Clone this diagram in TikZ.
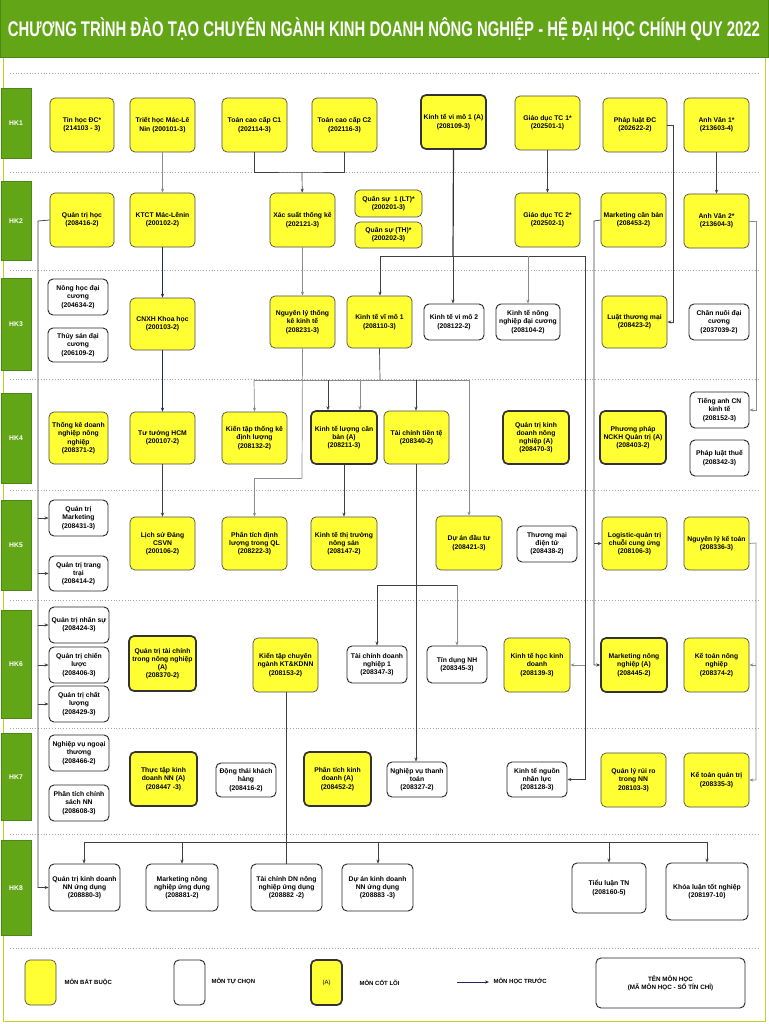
\documentclass[tikz,border=0pt]{standalone}
\usepackage{fontspec}
\usepackage{graphicx}
\setmainfont{Liberation Sans}
\usetikzlibrary{arrows.meta}
\definecolor{yl}{HTML}{FFFF33}
\definecolor{gr}{HTML}{62A516}
\definecolor{grd}{HTML}{4A8A12}
\definecolor{nv}{HTML}{1F2A5C}
\tikzset{
 bx/.style n args={4}{minimum width={(#2-#1)*1pt},minimum height={(#4-#3)*1pt},at={({(#1+#2)/2},{(#3+#4)/2})}},
 base/.style={rounded corners=5pt,draw=black!70,line width=0.7pt,align=center,inner sep=0.5pt,font=\fontsize{6.8}{8.2}\selectfont\bfseries},
 req/.style={base,fill=yl},
 opt/.style={base,fill=white,line width=0.9pt,draw=black!85},
 core/.style={base,fill=yl,line width=1.7pt,draw=black!80},
 hk/.style={fill=gr,draw=grd,line width=0.8pt,text=white,font=\fontsize{6.8}{8}\selectfont\bfseries,minimum width=30pt},
 ln/.style={line width=0.7pt,draw=black!75},
 lg/.style={line width=0.7pt,draw=black!45},
 ar/.style={ln,-{Stealth[length=4pt,width=3.2pt]}},
 arg/.style={lg,-{Stealth[length=4pt,width=3.2pt]}},
 sep/.style={draw=black!35,line width=0.8pt,dotted},
 lgt/.style={font=\fontsize{6}{7}\selectfont\bfseries,anchor=west},
}
\begin{document}
\begin{tikzpicture}[x=1pt,y=-1pt]
\useasboundingbox (0,0) rectangle (768,1024);
\fill[white] (0,0) rectangle (768,1024);
\draw[yl!80!black,line width=0.8pt] (3,58) -- (3,1021) -- (765,1021) -- (765,58);
\node[fill=gr,draw=grd,line width=1pt,minimum width=768pt,minimum height=58pt,inner sep=0pt] (title) at (384,29) {};
\node[text=white,inner sep=0pt] (tt) at (384,29) {\resizebox{752pt}{19pt}{\bfseries CHƯƠNG TRÌNH ĐÀO TẠO CHUYÊN NGÀNH KINH DOANH NÔNG NGHIỆP - HỆ ĐẠI HỌC CHÍNH QUY 2022}};
\foreach \y in {73,172,270,379,490,600,728,834,948} \draw[sep] (10,\y) -- (760,\y);
\node[hk,minimum height=70pt] (hk1) at (16,123) {HK1};
\node[hk,minimum height=79pt] (hk2) at (16,221) {HK2};
\node[hk,minimum height=92pt] (hk3) at (16,324) {HK3};
\node[hk,minimum height=90pt] (hk4) at (16,438) {HK4};
\node[hk,minimum height=90pt] (hk5) at (16,545) {HK5};
\node[hk,minimum height=108pt] (hk6) at (16,664) {HK6};
\node[hk,minimum height=87pt] (hk7) at (16,777) {HK7};
\node[hk,minimum height=95pt] (hk8) at (16,888) {HK8};
% HK1
\node[req,bx={50}{114}{98}{152}] (tin) {Tin học ĐC*\\(214103 - 3)};
\node[req,bx={130}{195}{98}{152}] (triet) {Triết học Mác-Lê\\Nin (200101-3)};
\node[req,bx={222}{287}{98}{152}] (c1) {Toán cao cấp C1\\(202114-3)};
\node[req,bx={312}{377}{98}{152}] (c2) {Toán cao cấp C2\\(202116-3)};
\node[core,bx={421}{486}{95}{149}] (vimo1) {Kinh tế vi mô 1 (A)\\(208109-3)};
\node[req,bx={515}{580}{96}{150}] (gdtc1) {Giáo dục TC 1*\\(202501-1)};
\node[req,bx={603}{667}{98}{152}] (pldc) {Pháp luật ĐC\\(202622-2)};
\node[req,bx={684}{749}{98}{152}] (av1) {Anh Văn 1*\\(213603-4)};
% HK2
\node[req,bx={50}{114}{193}{247}] (qth) {Quản trị học\\(208416-2)};
\node[req,bx={130}{195}{193}{247}] (ktct) {KTCT Mác-Lênin\\(200102-2)};
\node[req,bx={270}{335}{193}{247}] (xstk) {Xác suất thống kê\\(202121-3)};
\node[req,bx={355}{422}{190}{217}] (qs1) {Quân sự\ \ 1 (LT)*\\(200201-3)};
\node[req,bx={355}{422}{222}{248}] (qs2) {Quân sự (TH)*\\(200202-3)};
\node[req,bx={515}{580}{193}{247}] (gdtc2) {Giáo dục TC 2*\\(202502-1)};
\node[req,bx={601}{666}{193}{247}] (mkcb) {Marketing căn bản\\(208453-2)};
\node[req,bx={684}{749}{194}{248}] (av2) {Anh Văn 2*\\(213604-3)};
% HK3
\node[opt,bx={48}{108}{279}{315}] (nonghoc) {Nông học đại\\cương\\(204634-2)};
\node[opt,bx={48}{108}{328}{362}] (thuysan) {Thủy sản đại\\cương\\(206109-2)};
\node[req,bx={130}{195}{298}{350}] (cnxh) {CNXH Khoa học\\(200103-2)};
\node[req,bx={270}{335}{296}{348}] (nltk) {Nguyên lý thống\\kê kinh tế\\(208231-3)};
\node[req,bx={347}{412}{296}{348}] (vimo1b) {Kinh tế vĩ mô 1\\(208110-3)};
\node[opt,bx={424}{484}{304}{340}] (vimo2) {Kinh tế vi mô 2\\(208122-2)};
\node[opt,bx={496}{560}{304}{340}] (ktnn) {Kinh tế nông\\nghiệp đại cương\\(208104-2)};
\node[req,bx={602}{667}{296}{348}] (ltm) {Luật thương mại\\(208423-2)};
\node[opt,bx={689}{749}{304}{340}] (channuoi) {Chăn nuôi đại\\cương\\(2037039-2)};
% HK4
\node[req,bx={49}{108}{412}{464}] (tkdn) {Thống kê doanh\\nghiệp nông\\nghiệp\\(208371-2)};
\node[req,bx={130}{195}{412}{464}] (tthcm) {Tư tưởng HCM\\(200107-2)};
\node[req,bx={222}{287}{412}{464}] (kttk) {Kiến tập thống kê\\định lượng\\(208132-2)};
\node[core,bx={311}{377}{411}{464}] (ktl) {Kinh tế lượng căn\\bản (A)\\(208211-3)};
\node[req,bx={384}{449}{411}{464}] (tctt) {Tài chính tiền tệ\\(208340-2)};
\node[core,bx={503}{569}{411}{464}] (qtkd) {Quản trị kinh\\doanh nông\\nghiệp (A)\\(208470-3)};
\node[core,bx={600}{666}{411}{464}] (nckh) {Phương pháp\\NCKH Quản trị (A)\\(208403-2)};
\node[opt,bx={690}{749}{392}{428}] (tacn) {Tiếng anh CN\\kinh tế\\(208152-3)};
\node[opt,bx={690}{749}{440}{476}] (plt) {Pháp luật thuế\\(208342-3)};
% HK5
\node[opt,bx={49}{108}{500}{536}] (qtmk) {Quản trị\\Marketing\\(208431-3)};
\node[opt,bx={49}{108}{556}{591}] (qttt) {Quản trị trang\\trại\\(208414-2)};
\node[req,bx={130}{195}{517}{570}] (lsd) {Lịch sử Đảng\\CSVN\\(200106-2)};
\node[req,bx={222}{287}{517}{570}] (ptdl) {Phân tích định\\lượng trong QL\\(208222-3)};
\node[req,bx={311}{377}{517}{570}] (kttt) {Kinh tế thị trường\\nông sản\\(208147-2)};
\node[req,bx={436}{502}{516}{570}] (dadt) {Dự án đầu tư\\(208421-3)};
\node[opt,bx={517}{577}{526}{562}] (tmdt) {Thương mại\\điện tử\\(208438-2)};
\node[req,bx={602}{667}{517}{570}] (logi) {Logistic-quản trị\\chuỗi cung ứng\\(208106-3)};
\node[req,bx={684}{749}{517}{570}] (nlkt) {Nguyên lý kế toán\\(208336-3)};
% HK6
\node[opt,bx={49}{109}{607}{643}] (qtns) {Quản trị nhân sự\\(208424-3)};
\node[opt,bx={49}{109}{647}{683}] (qtcl) {Quản trị chiến\\lược\\(208406-3)};
\node[opt,bx={49}{109}{686}{722}] (qtcll) {Quản trị chất\\lượng\\(208429-3)};
\node[core,bx={129}{196}{636}{691}] (qttc) {Quản trị tài chính\\trong nông nghiệp\\(A)\\(208370-2)};
\node[req,bx={253}{318}{638}{692}] (ktcn) {Kiến tập chuyên\\ngành KT\&KDNN\\(208153-2)};
\node[opt,bx={347}{407}{646}{683}] (tcdn) {Tài chính doanh\\nghiệp 1\\(208347-3)};
\node[opt,bx={427}{487}{646}{683}] (tdnh) {Tín dụng NH\\(208345-3)};
\node[req,bx={504}{570}{638}{692}] (kthkd) {Kinh tế học kinh\\doanh\\(208139-3)};
\node[core,bx={601}{667}{638}{692}] (mknn) {Marketing nông\\nghiệp (A)\\(208445-2)};
\node[req,bx={684}{749}{638}{692}] (ktnn2) {Kế toán nông\\nghiệp\\(208374-2)};
% HK7
\node[opt,bx={49}{109}{735}{771}] (nvnt) {Nghiệp vụ ngoại\\thương\\(208466-2)};
\node[opt,bx={49}{109}{785}{821}] (ptcs) {Phân tích chính\\sách NN\\(208608-3)};
\node[core,bx={130}{197}{752}{806}] (ttkd) {Thực tập kinh\\doanh NN (A)\\(208447 -3)};
\node[opt,bx={216}{276}{763}{797}] (dtkh) {Động thái khách\\hàng\\(208416-2)};
\node[core,bx={304}{371}{752}{806}] (ptkd) {Phân tích kinh\\doanh (A)\\(208452-2)};
\node[opt,bx={387}{447}{762}{797}] (nvtt) {Nghiệp vụ thanh\\toán\\(208327-2)};
\node[opt,bx={507}{567}{762}{797}] (ktnl) {Kinh tế nguồn\\nhân lực\\(208128-3)};
\node[req,bx={601}{666}{753}{807}] (qlrr) {Quản lý rủi ro\\trong NN\\208103-3)};
\node[req,bx={684}{749}{753}{807}] (ktqt) {Kế toán quản trị\\(208335-3)};
% HK8
\node[opt,bx={49}{120}{864}{911}] (qtud) {Quản trị kinh doanh\\NN ứng dụng\\(208880-3)};
\node[opt,bx={146}{218}{864}{911}] (mkud) {Marketing nông\\nghiệp ứng dụng\\(208881-2)};
\node[opt,bx={251}{322}{864}{911}] (tcud) {Tài chính DN nông\\nghiệp ứng dụng\\(208882 -2)};
\node[opt,bx={342}{413}{864}{911}] (daud) {Dự án kinh doanh\\NN ứng dụng\\(208883 -3)};
\node[opt,bx={572}{646}{863}{913}] (tltn) {Tiểu luận TN\\(208160-5)};
\node[opt,bx={666}{748}{863}{920}] (kltn) {Khóa luận tốt nghiệp\\(208197-10)};
% legend
\node[req,bx={25}{56}{960}{1005}] (l1) {};
\node[lgt] (l1t) at (61,982) {MÔN BẮT BUỘC};
\node[opt,bx={174}{205}{960}{1005}] (l2) {};
\node[lgt] (l2t) at (208,981) {MÔN TỰ CHỌN};
\node[core,bx={311}{342}{960}{1005},font=\fontsize{6}{7}\selectfont] (l3) {(A)};
\node[lgt] (l3t) at (356,983) {MÔN CỐT LÕI};
\coordinate (la1) at (457,982); \coordinate (la2) at (489,982);
\draw[line width=1pt,nv,-{Stealth[length=4pt,width=3.2pt]}] (la1) -- (la2);
\node[lgt] (l4t) at (490,981) {MÔN HỌC TRƯỚC};
\node[opt,bx={596}{745}{958}{1008},font=\fontsize{6.3}{8}\selectfont\bfseries] (l5) {TÊN MÔN HỌC\\(MÃ MÔN HỌC - SỐ TÍN CHỈ)};
% connectors
\draw[arg] (triet) -- (ktct);
\draw[ar,draw=nv] (ktct) -- (cnxh);
\draw[ar,draw=nv] (cnxh) -- (tthcm);
\draw[ar] (tthcm) -- (lsd);
\coordinate (j1) at (302,172);
\draw[ln] (c1.south) |- (j1) -| (c2.south);
\draw[ar] (j1) -- (xstk);
\draw[arg] (xstk) -- (nltk);
\coordinate (j2) at (302,478);
\draw[lg] (nltk.south) -- (j2);
\draw[arg] (j2) -| (ptdl.north);
\coordinate (j3) at (380,380);
\coordinate (j3a) at (254,380); \coordinate (j3b) at (469,380);
\coordinate (j3c) at (328,380); \coordinate (j3d) at (360,380); \coordinate (j3e) at (416,380);
\draw[ln] (vimo1b.south) -- (j3);
\draw[lg] (j3a) -- (j3b);
\draw[arg] (j3a) -- (kttk.north);
\draw[ar] (j3c) -- (ktl.north -| j3c);
\draw[arg] (j3d) -- (ktl.north -| j3d);
\draw[ar] (j3e) -- (tctt.north -| j3e);
\draw[arg] (j3b) -- (dadt.north -| j3b);
\draw[ar] (ktl) -- (kttt);
\coordinate (j4) at (416,585); \coordinate (j4a) at (377,585); \coordinate (j4b) at (457,585);
\draw[ar] (tctt.south -| j4) -- (nvtt.north -| j4);
\draw[ln] (j4a) -- (j4b);
\draw[ar] (j4a) -- (tcdn.north -| j4a);
\draw[arg] (j4b) -- (tdnh.north -| j4b);
\coordinate (j5) at (453,256); \coordinate (j5a) at (380,256); \coordinate (j5b) at (585,256); \coordinate (j5c) at (528,256);
\draw[line width=1.2pt,black!80] (vimo1.south) -- (j5);
\draw[ln] (j5a) -- (j5b);
\draw[ar] (j5a) -- (vimo1b.north -| j5a);
\draw[ar] (j5) -- (vimo2.north -| j5);
\draw[arg] (j5c) -- (ktnn.north -| j5c);
\draw[ar] (j5b) |- (ktnl.east);
\draw[arg] (j5b |- kthkd.east) -- (kthkd.east);
\coordinate (j6) at (594,221);
\draw[ar] (mkcb.west) -- (j6) |- (mknn.west);
\draw[ar] (j6 |- logi.west) -- (logi.west);
\coordinate (j7) at (673,125);
\draw[ar] (pldc.east) -- (j7) |- (ltm.east);
\draw[ar] (gdtc1) -- (gdtc2);
\draw[ar] (av1) -- (av2);
\coordinate (j8) at (756,221);
\draw[arg] (av2.east) -- (j8) |- (tacn.east);
\coordinate (j9) at (756,543);
\draw[arg] (nlkt.east) -- (j9) |- (ktqt.east);
\draw[arg] (j9 |- ktnn2.east) -- (ktnn2.east);
\coordinate (j10) at (38,221);
\draw[ar] (qth.west) -- (j10) |- (qtud.west);
\foreach \n in {qtmk,qttt,qtns,qtcl,qtcll} \draw[ar] (j10 |- \n.west) -- (\n.west);
\coordinate (j11) at (286,842); \coordinate (j11a) at (84,842); \coordinate (j11b) at (707,842);
\draw[ln] (ktcn.south -| j11) -- (tcud.north -| j11);
\draw[ln] (j11a) -- (j11b);
\draw[ar] (j11a) -- (qtud.north -| j11a);
\foreach \xx/\n in {182/mkud,378/daud,609/tltn,707/kltn} \draw[ar] (\xx,842) -- (\n.north -| \xx,842);
\end{tikzpicture}
\end{document}
